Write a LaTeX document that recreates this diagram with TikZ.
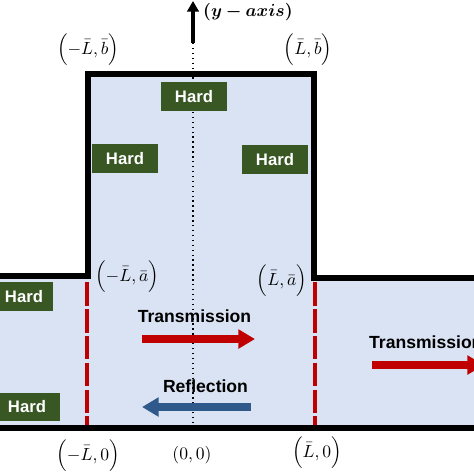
\documentclass[tikz,border=0pt]{standalone}
\usepackage{amssymb}
\usepackage{mathtools}
\usepackage{bm}
\usepackage{fontspec}
\setsansfont{Liberation Sans}
\usetikzlibrary{arrows.meta,positioning}

\definecolor{ductblue}{RGB}{218,227,243}
\definecolor{hardgreen}{RGB}{56,87,35}
\definecolor{wavered}{RGB}{192,0,0}
\definecolor{waveblue}{RGB}{46,89,138}

\begin{document}
\begin{tikzpicture}[x=0.02cm,y=-0.02cm,node distance=1cm,auto]
          \tikzstyle{wall}=[line width=3.4pt,line join=miter]
          \tikzstyle{hard}=[fill=hardgreen,text=white,font=\sffamily\bfseries\fontsize{9.5}{11}\selectfont,
                            minimum width=37.4pt,minimum height=16.4pt,inner sep=0pt]
          \tikzstyle{wave}=[font=\sffamily\bfseries\fontsize{10}{12}\selectfont]
          \tikzstyle{port}=[draw=wavered,line width=2.3pt,dash pattern=on 13.5pt off 1.8pt]
          \tikzstyle{big arrow}=[line width=4pt,-{Triangle[length=9.5pt,width=10.5pt]}]

          \useasboundingbox (0,0) rectangle (474,474);
          \clip (0,0) rectangle (474,474);

          % duct
          \fill[ductblue] (-5,276) -- (88,276) -- (88,74) -- (314,74) -- (314,278)
                          -- (480,278) -- (480,428) -- (-5,428) -- cycle;

          % y axis
          \coordinate (o)  at (193,428);
          \coordinate (yb) at (193,43);
          \coordinate (yt) at (193,1);
          \draw[dotted,line width=0.8pt] (yb) -- (o);
          \draw[line width=2pt,-{Triangle[length=6pt,width=6.5pt]}] (yb) -- (yt);
          \node[anchor=west] (ax) at (197,12) {$\boldsymbol{(y-axis)}$};

          % ports
          \coordinate (pl1) at (87,282);
          \coordinate (pl0) at (87,428);
          \coordinate (pr1) at (315,282);
          \coordinate (pr0) at (315,428);
          \draw[port] (pl1) -- (pl0);
          \draw[port] (pr1) -- (pr0);

          % walls
          \draw[wall] (-5,276) -- (88,276) -- (88,74) -- (314,74) -- (314,278) -- (480,278);
          \draw[wall] (-5,428) -- (480,428);

          \node[hard]                    (h1) at (194,96.5)  {Hard};
          \node[hard]                    (h2) at (125,158.5) {Hard};
          \node[hard]                    (h3) at (275,159.5) {Hard};
          \node[hard,minimum width=33pt] (h4) at (24,296.5)  {Hard};
          \node[hard]                    (h5) at (27,407)    {Hard};

          % corners
          \node (lb) at (88,50)   {$\Bigl(-\bar{L},\bar{b}\Bigr)$};
          \node (rb) at (308,50)  {$\Bigl(\bar{L},\bar{b}\Bigr)$};
          \node (la) at (127,277) {$\Bigl(-\bar{L},\bar{a}\Bigr)$};
          \node (ra) at (282,281) {$\Bigl(\bar{L},\bar{a}\Bigr)$};
          \node (l0) at (88,456)  {$\Bigl(-\bar{L},0\Bigr)$};
          \node (c0) at (192,455) {$(0,0)$};
          \node (r0) at (317,453) {$\Bigl(\bar{L},0\Bigr)$};

          % waves
          \node[wave,anchor=base]      (t1) at (194.5,322) {Transmission};
          \node[wave,anchor=base]      (r1) at (205.5,392) {Reflection};
          \node[wave,anchor=base west] (t2) at (363,348)   {Transmission};
          \coordinate (t1a) at (142,339);
          \coordinate (t1b) at (255,339);
          \coordinate (r1a) at (251,407);
          \coordinate (r1b) at (142,407);
          \coordinate (t2a) at (372,365);
          \coordinate (t2b) at (484,365);
          \draw[big arrow,wavered]  (t1a) -- (t1b);
          \draw[big arrow,waveblue] (r1a) -- (r1b);
          \draw[big arrow,wavered]  (t2a) -- (t2b);
\end{tikzpicture}
\end{document}
